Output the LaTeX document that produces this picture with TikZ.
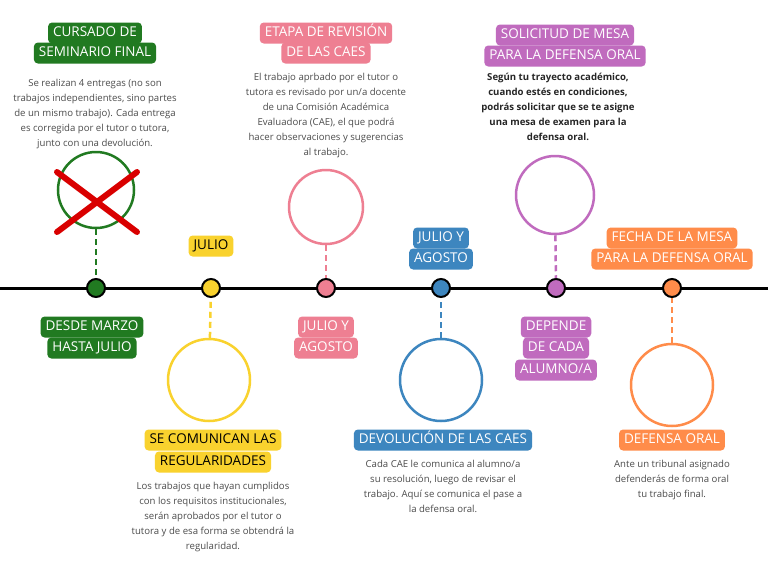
\documentclass[tikz,border=0pt]{standalone}
\usepackage{fontspec}
\setmainfont{Open Sans}
\begin{document}
\begin{tikzpicture}[x=1pt,y=-1pt,
  tl/.style={fill=#1,text=white,rounded corners=4pt,inner xsep=5pt,inner ysep=4pt,text height=10pt,text depth=3pt,font=\fontsize{13.5}{14}\selectfont},
  body/.style={align=center,text=black!70,font=\fontsize{9.6}{15}\selectfont},
  dot/.style={circle,draw=black,line width=2pt,fill=#1,minimum size=18pt,inner sep=0pt},
  ring/.style 2 args={circle,draw=#1,line width=2.5pt,fill=white,minimum size=#2,inner sep=0pt},
  dsh/.style={draw=#1,line width=2.5pt,dash pattern=on 6pt off 4pt}]
\definecolor{cg}{HTML}{217A21}\definecolor{cy}{HTML}{F9D22E}\definecolor{cp}{HTML}{EE7F92}
\definecolor{cb}{HTML}{3D86BF}\definecolor{cu}{HTML}{C06BBE}\definecolor{co}{HTML}{FF8C4A}
\useasboundingbox (0,0) rectangle (768,576);
\fill[white] (0,0) rectangle (768,576);
\coordinate (L) at (0,288); \coordinate (R) at (768,288);
\draw[line width=3pt] (L) -- (R);
% circles
\node[ring={cg}{76pt}] (c1) at (96,190) {};
\node[ring={cp}{74pt}] (c3) at (326,207) {};
\node[ring={cu}{78pt}] (c5) at (555,195) {};
\node[ring={cy}{82pt}] (c2) at (209,380) {};
\node[ring={cb}{82pt}] (c4) at (441,380) {};
\node[ring={co}{82pt}] (c6) at (672,385) {};
% dots
\node[dot=cg] (d1) at (96,288) {};
\node[dot=cy] (d2) at (211,288) {};
\node[dot=cp] (d3) at (326,288) {};
\node[dot=cb] (d4) at (441,288) {};
\node[dot=cu] (d5) at (556,288) {};
\node[dot=co] (d6) at (672,288) {};
\draw[dsh=cg] (c1) -- (d1); \draw[dsh=cp] (c3) -- (d3); \draw[dsh=cu] (c5) -- (d5);
\draw[dsh=cy] (c2) -- (d2); \draw[dsh=cb] (c4) -- (d4); \draw[dsh=co] (c6) -- (d6);
% red X
\coordinate (x1) at (57,172); \coordinate (x2) at (137,232);
\coordinate (x3) at (137,172); \coordinate (x4) at (57,232);
\draw[red!85!black,line width=6pt,line cap=round] (x1) -- (x2);
\draw[red!85!black,line width=6pt,line cap=round] (x3) -- (x4);
% top labels
\node[tl=cg] (g1) at (95,33) {CURSADO DE};
\node[tl=cg] (g2) at (95,53) {SEMINARIO FINAL};
\node[body,anchor=north] (gb) at (95,76) {Se realizan 4 entregas (no son\\trabajos independientes, sino partes\\de un mismo trabajo). Cada entrega\\es corregida por el tutor o tutora,\\junto con una devolución.};
\node[tl=cp] (p1) at (326,33) {ETAPA DE REVISIÓN};
\node[tl=cp] (p2) at (326,53) {DE LAS CAES};
\node[body,anchor=north] (pb) at (326,70) {El trabajo aprbado por el tutor o\\tutora es revisado por un/a docente\\de una Comisión Académica\\Evaluadora (CAE), el que podrá\\hacer observaciones y sugerencias\\al trabajo.};
\node[tl=cu] (u1) at (565,35) {SOLICITUD DE MESA};
\node[tl=cu] (u2) at (565,56) {PARA LA DEFENSA ORAL};
\node[body,anchor=north,text=black!85,font=\fontsize{9.6}{15}\selectfont\bfseries] (ub) at (558,70) {Según tu trayecto académico,\\cuando estés en condiciones,\\podrás solicitar que se te asigne\\una mesa de examen para la\\defensa oral.};
\node[tl=cy,text=black] (y0) at (211,246) {JULIO};
\node[tl=cb] (b1) at (441,238) {JULIO Y};
\node[tl=cb] (b2) at (441,259) {AGOSTO};
\node[tl=co] (o1) at (672,238) {FECHA DE LA MESA};
\node[tl=co] (o2) at (672,259) {PARA LA DEFENSA ORAL};
% bottom labels
\node[tl=cg] (g3) at (92,327) {DESDE MARZO};
\node[tl=cg] (g4) at (92,348) {HASTA JULIO};
\node[tl=cp] (p3) at (326,327) {JULIO Y};
\node[tl=cp] (p4) at (326,348) {AGOSTO};
\node[tl=cu] (u3) at (556,327) {DEPENDE};
\node[tl=cu] (u4) at (556,348) {DE CADA};
\node[tl=cu] (u5) at (556,370) {ALUMNO/A};
\node[tl=cy,text=black] (y1) at (213,440) {SE COMUNICAN LAS};
\node[tl=cy,text=black] (y2) at (213,462) {REGULARIDADES};
\node[body,anchor=north] (yb) at (213,479) {Los trabajos que hayan cumplidos\\con los requisitos institucionales,\\serán aprobados por el tutor o\\tutora y de esa forma se obtendrá la\\regularidad.};
\node[tl=cb] (b3) at (443,440) {DEVOLUCIÓN DE LAS CAES};
\node[body,anchor=north] (bb) at (443,457) {Cada CAE le comunica al alumno/a\\su resolución, luego de revisar el\\trabajo. Aquí se comunica el pase a\\la defensa oral.};
\node[tl=co] (o3) at (672,440) {DEFENSA ORAL};
\node[body,anchor=north] (ob) at (672,457) {Ante un tribunal asignado\\defenderás de forma oral\\tu trabajo final.};
\end{tikzpicture}
\end{document}
